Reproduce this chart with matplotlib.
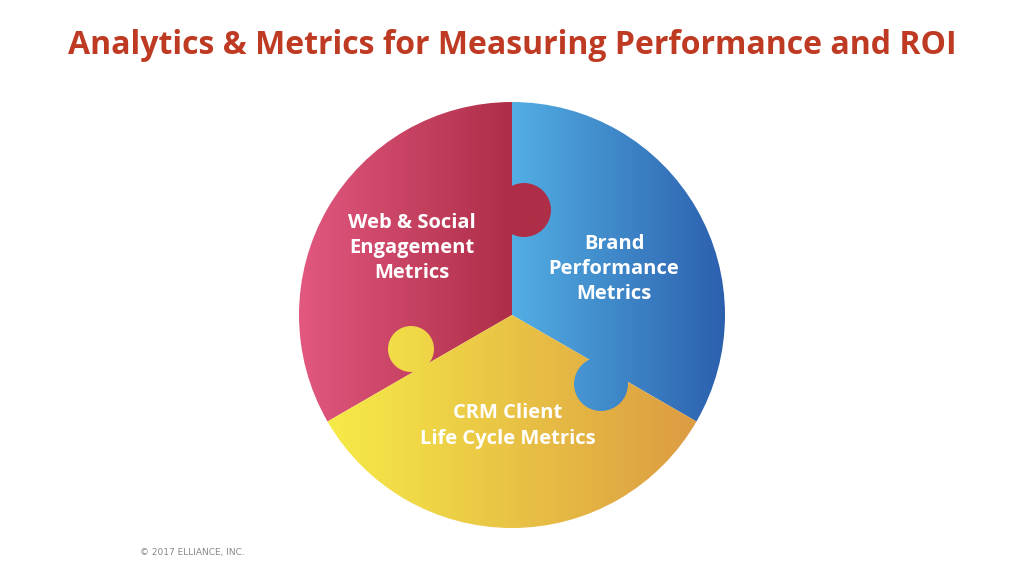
import numpy as np
import matplotlib
matplotlib.use("Agg")
import matplotlib.pyplot as plt
from matplotlib.patches import Wedge, Circle
from matplotlib.colors import LinearSegmentedColormap

categories = ["Web & Social\nEngagement\nMetrics", "Brand\nPerformance\nMetrics", "CRM Client\nLife Cycle Metrics"]
values = [1, 1, 1]
colors_left = ["#E2587F", "#52AEE3", "#F6EA48"]
colors_right = ["#AE2E48", "#2C60AE", "#DC9C42"]

fig = plt.figure(figsize=(10.24, 5.76), dpi=100)
ax = fig.add_axes([0, 0, 1, 1])
ax.set_xlim(0, 1024); ax.set_ylim(0, 576); ax.axis("off")

cx, cy, R = 512, 261, 213
total = sum(values)
spans = []
start = 90
for v in values:
    span = 360 * v / total
    spans.append((start, start + span))
    start += span
spans = [spans[0], (spans[2][0] - 360, spans[2][1] - 360), spans[1]]

def grad(patch, c1, c2, x0, x1, z):
    ax.add_patch(patch)
    patch.set_facecolor("none"); patch.set_edgecolor("none")
    cmap = LinearSegmentedColormap.from_list("g", [c1, c2])
    X0, X1 = cx - R - 5, cx + R + 5
    xs = np.linspace(X0, X1, 512)
    g = np.clip((xs - x0) / (x1 - x0), 0, 1).reshape(1, -1)
    im = ax.imshow(g, cmap=cmap, vmin=0, vmax=1, extent=[X0, X1, cy - R - 5, cy + R + 5],
                   aspect="auto", zorder=z)
    im.set_clip_path(patch)

xr = {0: (299, 512), 1: (512, 725), 2: (330, 695)}
for i, (a0, a1) in enumerate(spans):
    x0, x1 = xr[i]
    grad(Wedge((cx, cy), R, a0, a1), colors_left[i], colors_right[i], x0, x1, 1)

knobs = [(0, (524, 366), 27), (2, (411, 227), 23), (1, (601, 192), 27)]
for i, (kx, ky), r in knobs:
    x0, x1 = xr[i]
    grad(Circle((kx, ky), r), colors_left[i], colors_right[i], x0, x1, 2)

pos = [(412, 328), (614, 307), (508, 150)]
for (tx, ty), lab in zip(pos, categories):
    ax.text(tx, ty, lab, color="white", fontsize=14.5, fontweight="bold",
            family="Open Sans", ha="center", va="center", linespacing=1.35, zorder=5)

ax.text(512, 530, "Analytics & Metrics for Measuring Performance and ROI", color="#BE3A22",
        fontsize=23, fontweight="bold", family="Open Sans", ha="center", va="center")
ax.text(140, 23, "© 2017 ELLIANCE, INC.", color="#888888", fontsize=6.5, ha="left", va="center")

fig.savefig("out.png", dpi=100)
